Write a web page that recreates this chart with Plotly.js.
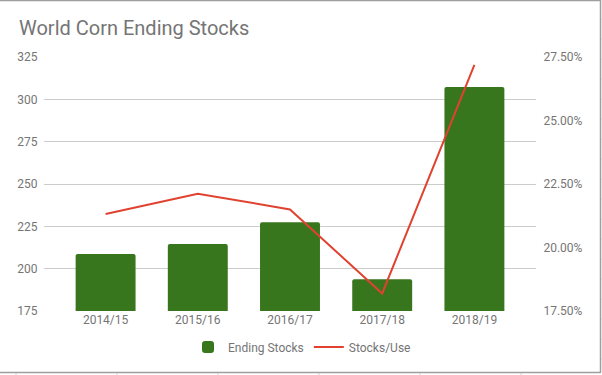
<!DOCTYPE html>
<html>
<head>
<meta charset="utf-8">
<script src="https://cdn.plot.ly/plotly-3.0.1.min.js"></script>
<style>
  html, body { margin: 0; padding: 0; background: #ffffff; }
  #chart { width: 602px; height: 375px; }
</style>
</head>
<body>
<div id="chart"></div>
<script>
// ---- data ----
const categories = ['2014/15', '2015/16', '2016/17', '2017/18', '2018/19'];
const endingStocks = [208.7, 214.6, 227.4, 193.7, 307.3];
const stocksToUse = [0.2132, 0.2212, 0.2150, 0.1819, 0.2719];
const leftTicks = [175, 200, 225, 250, 275, 300, 325];
const rightTicks = [0.175, 0.20, 0.225, 0.25, 0.275];

// ---- layout geometry (pixels) ----
const W = 602, H = 375;
const M = { l: 44, r: 66, t: 57, b: 64 };
const plotW = W - M.l - M.r, plotH = H - M.t - M.b;
const px = v => (v - M.l) / plotW;
const py = v => (H - M.b - v) / plotH;

const textColor = '#757575';
const font = 'Roboto, Arial, sans-serif';

const traces = [
  {
    type: 'bar',
    name: 'Ending Stocks',
    x: categories,
    y: endingStocks,
    marker: { color: '#38761d', cornerradius: 2 },
    width: 0.65,
    hoverinfo: 'none'
  },
  {
    type: 'scatter',
    mode: 'lines',
    name: 'Stocks/Use',
    x: categories,
    y: stocksToUse,
    yaxis: 'y2',
    line: { color: '#e0422f', width: 2 },
    hoverinfo: 'none'
  }
];

// frame lines (spreadsheet embed border)
const frameColor = '#9e9e9e';
const shapes = [
  { type: 'line', xref: 'paper', yref: 'paper', x0: px(0), x1: px(601), y0: py(0.5), y1: py(0.5), line: { color: frameColor, width: 1.5 } },
  { type: 'line', xref: 'paper', yref: 'paper', x0: px(600.5), x1: px(600.5), y0: py(0), y1: py(372.5), line: { color: frameColor, width: 1.5 } },
  { type: 'line', xref: 'paper', yref: 'paper', x0: px(0), x1: px(601), y0: py(372.5), y1: py(372.5), line: { color: frameColor, width: 1.5 } }
];
[16, 117, 218, 319, 420, 521].forEach(x => {
  shapes.push({ type: 'line', xref: 'paper', yref: 'paper', x0: px(x), x1: px(x), y0: py(373), y1: py(375), line: { color: '#d0d0d0', width: 1 } });
});
for (let y = 19; y < 372; y += 20) {
  shapes.push({ type: 'line', xref: 'paper', yref: 'paper', x0: px(601), x1: px(602), y0: py(y), y1: py(y), line: { color: '#d0d0d0', width: 1 } });
}

const layout = {
  width: W,
  height: H,
  margin: M,
  paper_bgcolor: '#ffffff',
  plot_bgcolor: '#ffffff',
  font: { family: font, size: 12, color: textColor },
  title: {
    text: 'World Corn Ending Stocks',
    font: { family: font, size: 20, color: textColor },
    xref: 'container', yref: 'container',
    x: 19 / W, xanchor: 'left',
    y: 1 - 28 / H, yanchor: 'middle'
  },
  xaxis: {
    type: 'category',
    range: [-0.668, 4.668],
    showgrid: false,
    zeroline: false,
    showline: false,
    ticks: '',
    tickfont: { family: font, size: 12, color: textColor },
    fixedrange: true
  },
  yaxis: {
    range: [175, 325],
    tickvals: leftTicks,
    showgrid: true,
    gridcolor: '#cccccc',
    gridwidth: 1,
    zeroline: false,
    showline: false,
    ticks: 'outside',
    ticklen: 3,
    tickcolor: 'rgba(0,0,0,0)',
    tickfont: { family: font, size: 12, color: textColor },
    fixedrange: true
  },
  yaxis2: {
    overlaying: 'y',
    side: 'right',
    range: [0.175, 0.275],
    tickvals: rightTicks,
    tickformat: '.2%',
    showgrid: false,
    zeroline: false,
    showline: false,
    ticks: 'outside',
    ticklen: 4,
    tickcolor: 'rgba(0,0,0,0)',
    tickfont: { family: font, size: 12, color: textColor },
    fixedrange: true
  },
  legend: {
    orientation: 'h',
    x: px(302), xanchor: 'center',
    y: py(347), yanchor: 'middle',
    font: { family: font, size: 12, color: textColor },
    bgcolor: 'rgba(0,0,0,0)'
  },
  shapes: shapes,
  bargap: 0.35,
  hovermode: false
};

Plotly.newPlot('chart', traces, layout, { displayModeBar: false, staticPlot: true });
</script>
</body>
</html>
